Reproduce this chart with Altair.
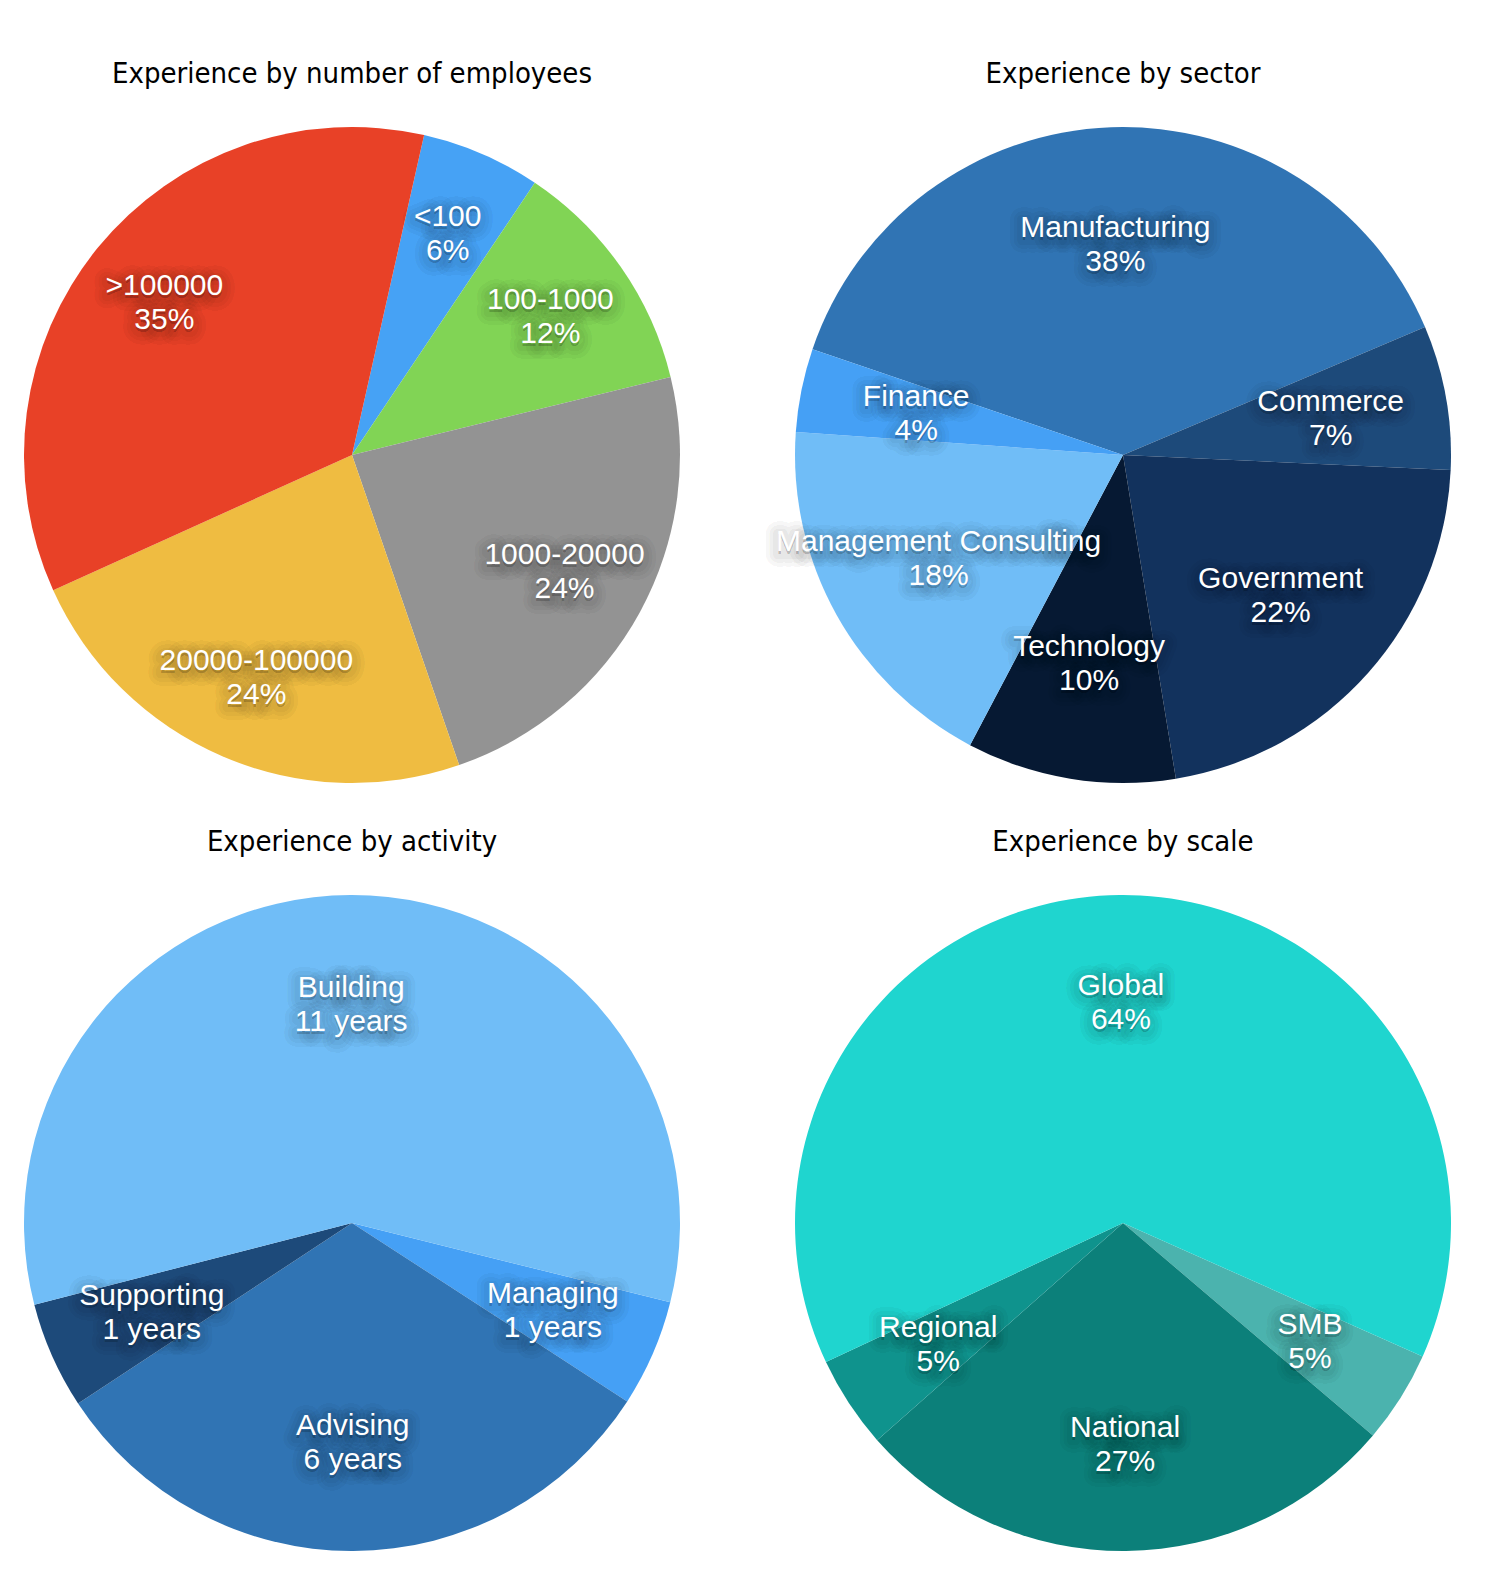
import math
import altair as alt
import pandas as pd

# ---- data ----
emp_title = "Experience by number of employees"
emp_cats = ["<100", "100-1000", "1000-20000", "20000-100000", ">100000"]
emp_vals = [1, 2, 4, 4, 6]
emp_colors = ["#46A2F5", "#81D455", "#939393", "#EFBC41", "#E84127"]

sector_title = "Experience by sector"
sector_cats = ["Manufacturing", "Commerce", "Government", "Technology",
               "Management Consulting", "Finance"]
sector_vals = [38.4, 7.1, 21.7, 10.3, 18.4, 4.1]
sector_colors = ["#3074B4", "#1D4A7A", "#12325D", "#061933", "#70BDF7", "#45A0F5"]

activity_title = "Experience by activity"
activity_cats = ["Managing", "Advising", "Supporting", "Building"]
activity_vals = [1, 6, 1, 11]
activity_colors = ["#45A0F5", "#3074B4", "#1D4A7A", "#70BDF7"]

scale_title = "Experience by scale"
scale_cats = ["SMB", "National", "Regional", "Global"]
scale_vals = [1, 6, 1, 14]
scale_colors = ["#4BB3AE", "#0C807A", "#0F938D", "#1FD5CF"]

# ---- layout/style ----
R = 328
CX = 344
CY = 447
PANEL_H = 768
LABEL_FONT = "Liberation Sans"
TITLE_FONT = "DejaVu Sans Condensed"
LINE_H = 34


def pct_labels(cats, vals):
    tot = sum(vals)
    return [f"{c}\n{round(v / tot * 100)}%" for c, v in zip(cats, vals)]


def year_labels(cats, vals):
    return [f"{c}\n{v} years" for c, v in zip(cats, vals)]


def panel(i, title, cats, vals, labels, colors, start_deg, label_r, width):
    cf, vf, lf, of = f"c{i}", f"v{i}", f"l{i}", f"o{i}"
    df = pd.DataFrame({cf: cats, vf: vals, lf: labels, of: list(range(len(cats)))})
    a0 = math.radians(start_deg)
    theta = alt.Theta(f"{vf}:Q", stack=True,
                      scale=alt.Scale(range=[a0, a0 + 2 * math.pi]))
    order = alt.Order(f"{of}:Q", sort="ascending")
    base = alt.Chart(df).encode(theta=theta, order=order,
                                x=alt.value(CX), y=alt.value(CY))
    arcs = base.mark_arc(outerRadius=R).encode(
        color=alt.Color(f"{cf}:N", scale=alt.Scale(domain=cats, range=colors),
                        legend=None))
    layers = [arcs]
    for w, op in [(26, 0.03), (18, 0.04), (11, 0.05)]:
        layers.append(base.mark_text(
            radius=label_r, lineBreak="\n", font=LABEL_FONT, fontSize=30,
            lineHeight=LINE_H, fill="#000000", fillOpacity=0.08, stroke="#000000",
            strokeWidth=w, strokeOpacity=op, strokeJoin="round",
            dy=-LINE_H / 2 + 4,
        ).encode(text=f"{lf}:N"))
    layers.append(base.mark_text(
        radius=label_r, lineBreak="\n", font=LABEL_FONT, fontSize=30,
        lineHeight=LINE_H, color="#FFFFFF", dy=-LINE_H / 2 + 1,
    ).encode(text=f"{lf}:N"))
    tdf = pd.DataFrame({f"t{i}": [title]})
    layers.append(alt.Chart(tdf).mark_text(
        font=TITLE_FONT, fontSize=29, baseline="alphabetic", align="center",
        color="#000000",
    ).encode(text=f"t{i}:N", x=alt.value(CX), y=alt.value(75)))
    return alt.layer(*layers).properties(width=width, height=PANEL_H)


p1 = panel(1, emp_title, emp_cats, emp_vals, pct_labels(emp_cats, emp_vals),
           emp_colors, 12.7, 242, 771)
p2 = panel(2, sector_title, sector_cats, sector_vals,
           pct_labels(sector_cats, sector_vals), sector_colors, -71.2, 211, 700)
p3 = panel(3, activity_title, activity_cats, activity_vals,
           year_labels(activity_cats, activity_vals), activity_colors, 104, 219, 771)
p4 = panel(4, scale_title, scale_cats, scale_vals,
           pct_labels(scale_cats, scale_vals), scale_colors, 114, 221, 700)

chart = alt.concat(
    p1, p2, p3, p4, columns=2, spacing=0, bounds="flush",
).resolve_scale(
    color="independent", theta="independent",
).properties(padding=0).configure_view(stroke=None)

chart.save("out.html", embed_options={"renderer": "svg", "actions": False})
